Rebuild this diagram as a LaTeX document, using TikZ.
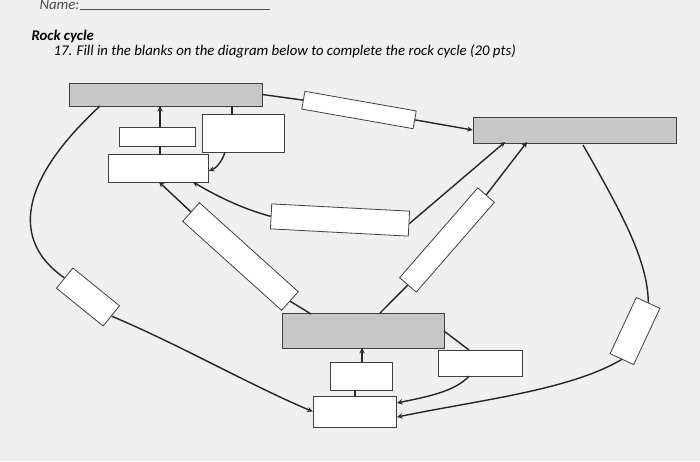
\documentclass[tikz,border=0pt]{standalone}
\usepackage{fontspec}
\setmainfont{Carlito}
\begin{document}
\begin{tikzpicture}[x=1pt,y=-1pt,
  wbox/.style={draw=black!75,fill=white,line width=0.8pt,inner sep=0pt},
  gbox/.style={draw=black!75,fill=black!22,line width=0.8pt,inner sep=0pt},
  conn/.style={line width=1.4pt,black!85},
  arr/.style={conn,-stealth},
  txt/.style={anchor=base west,font=\fontsize{14.8}{17}\selectfont\itshape}]
\fill[black!6] (0,0) rectangle (700,461);
\useasboundingbox (0,0) rectangle (700,461);
% header
\node[txt,text=black!70] (name) at (36,9) {Name:};
\draw[black!70,line width=0.6pt] (80,9) -- (270,9);
\node[txt,font=\fontsize{14.8}{17}\selectfont\bfseries\itshape] (title) at (28,40) {Rock cycle};
\node[txt] (q) at (50,55) {17. Fill in the blanks on the diagram below to complete the rock cycle (20 pts)};
% boxes
\node[gbox,minimum width=193pt,minimum height=23pt] (tl) at (165.5,94.5) {};
\node[wbox,minimum width=113pt,minimum height=18pt,rotate=-10] (tm) at (359,110) {};
\node[gbox,minimum width=203pt,minimum height=26pt] (tr) at (574.5,130) {};
\node[wbox,minimum width=76pt,minimum height=19pt] (s1) at (157,136.5) {};
\node[wbox,minimum width=82pt,minimum height=38pt] (s2) at (243,133) {};
\node[wbox,minimum width=100pt,minimum height=28pt] (s3) at (158,168) {};
\node[wbox,minimum width=138pt,minimum height=25pt,rotate=-3] (mid) at (340,220) {};
\node[wbox,minimum width=133pt,minimum height=25pt,rotate=-42] (dl) at (240.5,256.5) {};
\node[wbox,minimum width=119pt,minimum height=22pt,rotate=49] (dr) at (447,240) {};
\node[wbox,minimum width=60pt,minimum height=26pt,rotate=-39] (lb) at (88,297) {};
\node[wbox,minimum width=62pt,minimum height=26pt,rotate=65] (rb) at (635,331) {};
\node[gbox,minimum width=162pt,minimum height=35pt] (bg) at (363,330.5) {};
\node[wbox,minimum width=62pt,minimum height=28pt] (b1) at (361.5,376) {};
\node[wbox,minimum width=84pt,minimum height=26pt] (b2) at (480,363) {};
\node[wbox,minimum width=83pt,minimum height=31pt] (bb) at (354.5,411.5) {};
% connectors
\draw[conn] (tl.east) -- (tm.west);
\draw[arr] (tm.east) -- (tr.west);
\draw[conn] (100,106) .. controls (20,180) and (10,240) .. (lb.west);
\draw[arr] (lb.east) .. controls (180,345) and (250,385) .. (bb.west);
\draw[arr] (160,127) -- (160,106);
\draw[conn] (160,146) -- (160,154);
\draw[conn] (232,106) -- (232,114);
\draw[arr] (225,152) .. controls (222,162) and (216,168) .. (209,171);
\draw[arr] (mid.west) .. controls (240,208) and (215,195) .. (193,182);
\draw[arr] (dl.west) -- (159,182);
\draw[conn] (dl.east) -- (311,314);
\draw[conn] (380,313) -- (dr.west);
\draw[arr] (dr.east) -- (527,142);
\draw[arr] (mid.east) -- (505,142);
\draw[conn] (583,145) .. controls (620,210) and (648,260) .. (rb.east);
\draw[arr] (rb.west) .. controls (570,390) and (480,400) .. (397,417);
\draw[conn] (444,331) -- (469,350);
\draw[arr] (469,376) .. controls (455,392) and (425,397) .. (397,403);
\draw[arr] (362,362) -- (362,348);
\draw[conn] (355,390) -- (355,396);
\end{tikzpicture}
\end{document}
